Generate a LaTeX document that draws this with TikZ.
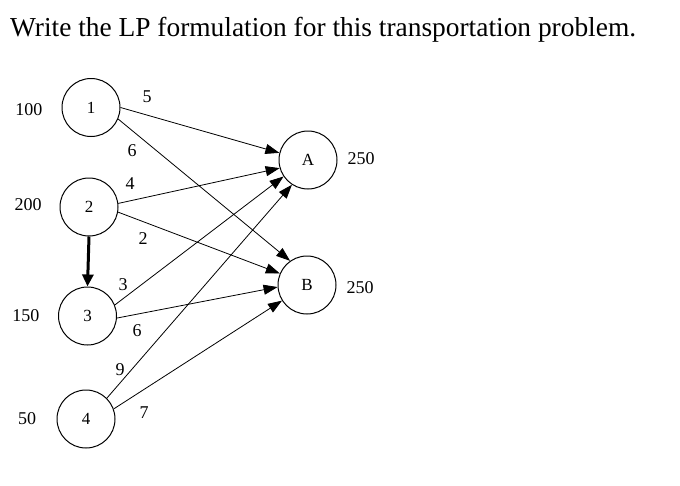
\documentclass[tikz,border=0pt]{standalone}
\usepackage{fontspec}
\setmainfont{Liberation Serif}
\usetikzlibrary{arrows.meta}
\begin{document}
\begin{tikzpicture}[x=1pt,y=-1pt,
  circ/.style={draw,circle,line width=1pt,minimum size=58pt,inner sep=0pt,font=\fontsize{17}{19}\selectfont},
  lbl/.style={inner sep=0pt,font=\fontsize{18}{20}\selectfont},
  flow/.style={line width=0.8pt,-{Triangle[length=14pt,width=10pt]}}]
\useasboundingbox (0,0) rectangle (680,485);
\node[anchor=base west,inner sep=0pt,font=\fontsize{27.4}{30}\selectfont] (title) at (10,36) {Write the LP formulation for this transportation problem.};
\node[circ] (n1) at (91,107.5) {1};
\node[circ] (n2) at (89,207) {2};
\node[circ] (n3) at (87.5,316) {3};
\node[circ] (n4) at (86,419) {4};
\node[circ] (A) at (308,160) {A};
\node[circ] (B) at (307,285) {B};
\node[lbl] (s1) at (29,110) {100};
\node[lbl] (s2) at (28,205) {200};
\node[lbl] (s3) at (26,316) {150};
\node[lbl] (s4) at (27,419) {50};
\node[lbl] (dA) at (361,159) {250};
\node[lbl] (dB) at (360,288) {250};
\draw[flow] (n1.0) -- (A.166);
\draw[flow] (n1.-23) -- (B.125);
\draw[flow] (n2.7) -- (A.196);
\draw[flow] (n2.-10) -- (B.157);
\draw[flow] (n3.22) -- (A.214);
\draw[flow] (n3.-4) -- (B.184);
\draw[flow] (n4.45) -- (A.237);
\draw[flow] (n4.20) -- (B.212);
\draw[line width=3pt,-{Triangle[length=12pt,width=11pt]}] (n2.south) -- (n3.north);
\node[lbl] (c1a) at (147,97) {5};
\node[lbl] (c1b) at (132,151) {6};
\node[lbl] (c2a) at (130,184) {4};
\node[lbl] (c2b) at (143,239) {2};
\node[lbl] (c3a) at (123,285) {3};
\node[lbl] (c3b) at (137,331) {6};
\node[lbl] (c4a) at (120,370) {9};
\node[lbl] (c4b) at (144,413) {7};
\end{tikzpicture}
\end{document}
